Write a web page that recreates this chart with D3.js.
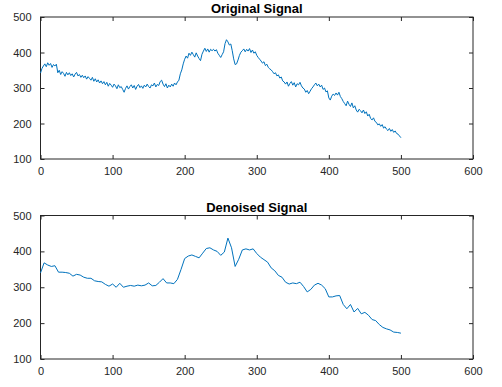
<!DOCTYPE html>
<html lang="en">
<head>
  <meta charset="utf-8">
  <title>Original vs Denoised Signal</title>
  <script src="https://cdn.jsdelivr.net/npm/d3@7/dist/d3.min.js"></script>
  <style>
    body { margin: 0; background: #fff; }
    svg { display: block; font-family: "Liberation Sans", Arial, sans-serif; }
    .tick text { fill: #262626; font-size: 11px; }
    .domain, .tick line { stroke: #262626; }
  </style>
</head>
<body>
  <div id="chart"></div>
  <script>
    var w = 502,
      h = 387;

    // sample step for each series (x = i * step)
    var originalStep = 2;
    var denoisedStep = 5;

    var originalValues = [
      342, 355, 362, 368, 360, 371, 364, 369, 358, 366,
      362, 367, 343, 350, 338, 346, 341, 333, 344, 337,
      343, 335, 340, 331, 339, 344, 334, 338, 330, 336,
      329, 334, 325, 332, 327, 322, 330, 319, 326, 317,
      323, 314, 320, 312, 318, 309, 316, 305, 313, 308,
      302, 311, 306, 298, 309, 301, 304, 296, 288, 299,
      306, 297, 304, 309, 300, 307, 296, 305, 310, 301,
      306, 299, 308, 303, 311, 304, 300, 309, 306, 314,
      303, 310, 307, 318, 322, 311, 304, 312, 300, 308,
      303, 311, 305, 314, 309, 317, 322, 340, 351, 368,
      381, 390, 384, 398, 392, 401, 394, 387, 399, 390,
      383, 377, 395, 404, 412, 403, 410, 401, 409, 405,
      409, 404, 408, 398, 392, 386, 394, 402, 425, 436,
      430, 421, 424, 405, 382, 366, 368, 379, 392, 401,
      405, 410, 402, 409, 404, 411, 400, 407, 398, 402,
      392, 386, 381, 376, 370, 374, 363, 367, 358, 354,
      351, 346, 340, 343, 334, 337, 328, 331, 320, 317,
      311, 317, 305, 313, 318, 308, 315, 303, 312, 309,
      316, 306, 300, 297, 288, 293, 284, 291, 298, 303,
      309, 314, 306, 311, 303, 308, 296, 300, 289, 292,
      272, 266, 277, 283, 279, 286, 280, 288, 276, 270,
      262, 256, 250, 263, 254, 248, 258, 244, 250, 238,
      232, 240, 236, 230, 238, 228, 233, 221, 226, 214,
      210, 216, 206, 203, 196, 199, 192, 197, 187, 191,
      184, 180, 186, 178, 183, 175, 179, 172, 170, 165,
      160
    ];

    var denoisedValues = [
      340, 368, 362, 358, 360, 342, 342, 341, 339, 331,
      336, 334, 328, 325, 325, 318, 316, 315, 308, 303,
      309, 300, 311, 300, 303, 305, 303, 306, 304, 306,
      312, 304, 305, 314, 324, 312, 312, 310, 322, 350,
      380, 387, 390, 386, 382, 395, 408, 410, 404, 400,
      389, 398, 437, 410, 358, 378, 404, 407, 404, 407,
      394, 384, 377, 370, 354, 346, 333, 328, 314, 309,
      312, 310, 314, 302, 287, 294, 306, 311, 306, 296,
      273, 273, 276, 277, 252, 240, 252, 231, 241, 226,
      230, 222, 210, 207, 196, 188, 184, 181, 175, 174,
      172
    ];

    var xTicks = [0, 100, 200, 300, 400, 500, 600];
    var yTicks = [100, 200, 300, 400, 500];

    var panels = [
      { title: "Original Signal", values: originalValues, step: originalStep, top: 17, bottom: 159 },
      { title: "Denoised Signal", values: denoisedValues, step: denoisedStep, top: 215.5, bottom: 359 }
    ];

    var left = 40.5, right = 473;
    var tickLen = 4;

    var svg = d3.select('#chart')
      .append('svg')
      .attr('width', w)
      .attr('height', h);

    panels.forEach(function(p) {
      var x = d3.scaleLinear().domain([0, 600]).range([left, right]);
      var y = d3.scaleLinear().domain([100, 500]).range([p.bottom, p.top]);

      var g = svg.append('g');

      // box
      g.append('rect')
        .attr('x', left).attr('y', p.top)
        .attr('width', right - left).attr('height', p.bottom - p.top)
        .attr('fill', 'none').attr('stroke', '#262626').attr('stroke-width', 1);

      // ticks pointing inward on all sides
      g.append('g').attr('transform', 'translate(0,' + p.bottom + ')')
        .call(d3.axisBottom(x).tickValues(xTicks).tickSizeInner(-tickLen).tickSizeOuter(0).tickPadding(8))
        .call(function(a) { a.select('.domain').remove(); });
      g.append('g').attr('transform', 'translate(0,' + p.top + ')')
        .call(d3.axisTop(x).tickValues(xTicks).tickSizeInner(-tickLen).tickSizeOuter(0).tickFormat(''))
        .call(function(a) { a.select('.domain').remove(); });
      g.append('g').attr('transform', 'translate(' + left + ',0)')
        .call(d3.axisLeft(y).tickValues(yTicks).tickSizeInner(-tickLen).tickSizeOuter(0).tickPadding(9))
        .call(function(a) { a.select('.domain').remove(); });
      g.append('g').attr('transform', 'translate(' + right + ',0)')
        .call(d3.axisRight(y).tickValues(yTicks).tickSizeInner(-tickLen).tickSizeOuter(0).tickFormat(''))
        .call(function(a) { a.select('.domain').remove(); });

      var line = d3.line()
        .x(function(d, i) { return x(i * p.step); })
        .y(function(d) { return y(d); });

      g.append('path')
        .datum(p.values)
        .attr('d', line)
        .attr('fill', 'none')
        .attr('stroke', '#0072BD')
        .attr('stroke-width', 1);

      g.append('text')
        .attr('x', (left + right) / 2)
        .attr('y', p.top - 4)
        .attr('text-anchor', 'middle')
        .style('font-size', '13px')
        .style('font-weight', 'bold')
        .style('fill', '#000')
        .text(p.title);
    });
  </script>
</body>
</html>
